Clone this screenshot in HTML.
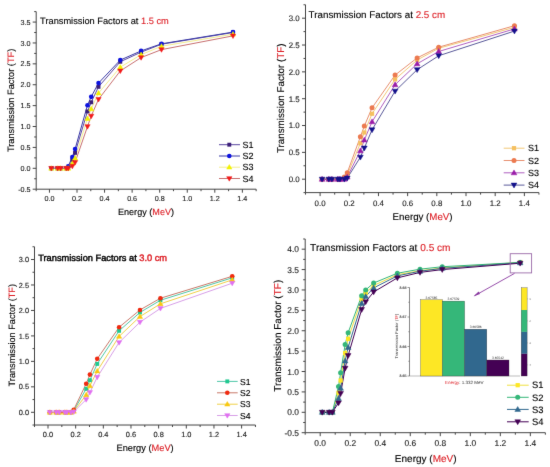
<!DOCTYPE html>
<html><head><meta charset="utf-8"><style>
html,body{margin:0;padding:0;background:#fff;}
svg{display:block;}
text{font-family:"Liberation Sans",sans-serif;text-rendering:geometricPrecision;}
</style></head><body>
<svg width="550" height="467" viewBox="0 0 550 467" font-family="Liberation Sans, sans-serif">
<defs><filter id="bl" x="0" y="0" width="1" height="1" color-interpolation-filters="sRGB"><feConvolveMatrix order="3" kernelMatrix="0.0072 0.0847 0.0072 0.0847 1 0.0847 0.0072 0.0847 0.0072" divisor="1.3673" edgeMode="duplicate"/></filter></defs>
<rect width="550" height="467" fill="#fff"/>
<g filter="url(#bl)">
<rect width="550" height="467" fill="#fff"/>
<g id="p1"><path d="M36.20 11.62V189.19H256.15" fill="none" stroke="#444" stroke-width="1"/>
<path d="M32.70 189.19H36.20M34.20 178.75H36.20M32.70 168.30H36.20M34.20 157.86H36.20M32.70 147.41H36.20M34.20 136.97H36.20M32.70 126.52H36.20M34.20 116.08H36.20M32.70 105.63H36.20M34.20 95.19H36.20M32.70 84.74H36.20M34.20 74.30H36.20M32.70 63.85H36.20M34.20 53.41H36.20M32.70 42.96H36.20M34.20 32.52H36.20M32.70 22.07H36.20M34.20 11.62H36.20M36.20 189.19V191.19M49.45 189.19V192.69M63.23 189.19V191.19M77.01 189.19V192.69M90.79 189.19V191.19M104.57 189.19V192.69M118.35 189.19V191.19M132.13 189.19V192.69M145.91 189.19V191.19M159.69 189.19V192.69M173.47 189.19V191.19M187.25 189.19V192.69M201.03 189.19V191.19M214.81 189.19V192.69M228.59 189.19V191.19M242.37 189.19V192.69M256.15 189.19V191.19" stroke="#444" stroke-width="1" fill="none"/>
<text x="30.60" y="191.77" text-anchor="end" font-size="7.2" fill="#1a1a1a" stroke="#1a1a1a" stroke-width="0.12">-0.5</text>
<text x="30.60" y="170.88" text-anchor="end" font-size="7.2" fill="#1a1a1a" stroke="#1a1a1a" stroke-width="0.12">0.0</text>
<text x="30.60" y="149.99" text-anchor="end" font-size="7.2" fill="#1a1a1a" stroke="#1a1a1a" stroke-width="0.12">0.5</text>
<text x="30.60" y="129.10" text-anchor="end" font-size="7.2" fill="#1a1a1a" stroke="#1a1a1a" stroke-width="0.12">1.0</text>
<text x="30.60" y="108.21" text-anchor="end" font-size="7.2" fill="#1a1a1a" stroke="#1a1a1a" stroke-width="0.12">1.5</text>
<text x="30.60" y="87.32" text-anchor="end" font-size="7.2" fill="#1a1a1a" stroke="#1a1a1a" stroke-width="0.12">2.0</text>
<text x="30.60" y="66.43" text-anchor="end" font-size="7.2" fill="#1a1a1a" stroke="#1a1a1a" stroke-width="0.12">2.5</text>
<text x="30.60" y="45.54" text-anchor="end" font-size="7.2" fill="#1a1a1a" stroke="#1a1a1a" stroke-width="0.12">3.0</text>
<text x="30.60" y="24.65" text-anchor="end" font-size="7.2" fill="#1a1a1a" stroke="#1a1a1a" stroke-width="0.12">3.5</text>
<text x="49.45" y="200.89" text-anchor="middle" font-size="7.2" fill="#1a1a1a" stroke="#1a1a1a" stroke-width="0.12">0.0</text>
<text x="77.01" y="200.89" text-anchor="middle" font-size="7.2" fill="#1a1a1a" stroke="#1a1a1a" stroke-width="0.12">0.2</text>
<text x="104.57" y="200.89" text-anchor="middle" font-size="7.2" fill="#1a1a1a" stroke="#1a1a1a" stroke-width="0.12">0.4</text>
<text x="132.13" y="200.89" text-anchor="middle" font-size="7.2" fill="#1a1a1a" stroke="#1a1a1a" stroke-width="0.12">0.6</text>
<text x="159.69" y="200.89" text-anchor="middle" font-size="7.2" fill="#1a1a1a" stroke="#1a1a1a" stroke-width="0.12">0.8</text>
<text x="187.25" y="200.89" text-anchor="middle" font-size="7.2" fill="#1a1a1a" stroke="#1a1a1a" stroke-width="0.12">1.0</text>
<text x="214.81" y="200.89" text-anchor="middle" font-size="7.2" fill="#1a1a1a" stroke="#1a1a1a" stroke-width="0.12">1.2</text>
<text x="242.37" y="200.89" text-anchor="middle" font-size="7.2" fill="#1a1a1a" stroke="#1a1a1a" stroke-width="0.12">1.4</text>
<text x="40.1" y="24.3" font-size="9.25" fill="#000" stroke="#000" stroke-width="0.12">Transmission Factors at <tspan fill="#dd1f26" stroke="#dd1f26">1.5 cm</tspan></text>
<text transform="translate(14.0 100.4) rotate(-90)" text-anchor="middle" font-size="9.24" fill="#000" stroke="#000" stroke-width="0.12">Transmission Factor (<tspan fill="#dd1f26" stroke="#dd1f26">TF</tspan>)</text>
<text x="146" y="215.3" text-anchor="middle" font-size="9.1" fill="#000" stroke="#000" stroke-width="0.12">Energy (<tspan fill="#dd1f26" stroke="#dd1f26">MeV</tspan>)</text>
<polyline points="51.32,168.30 57.65,168.30 60.61,168.30 66.26,168.30 68.19,167.46 72.32,159.94 75.08,152.84 87.48,111.48 91.20,102.29 98.51,86.83 120.28,61.76 141.09,52.15 161.48,44.21 233.00,32.52" fill="none" stroke="#5a48a0" stroke-width="1"/>
<polyline points="51.32,168.30 57.65,168.30 60.61,168.30 66.26,168.30 68.19,166.21 72.32,157.02 75.08,149.08 87.48,105.21 91.20,96.86 98.51,83.07 120.28,60.09 141.09,50.90 161.48,43.80 233.00,32.10" fill="none" stroke="#3a3aa8" stroke-width="1"/>
<polyline points="51.32,168.30 57.65,168.30 60.61,168.30 66.26,168.30 68.19,168.30 72.32,163.29 75.08,158.27 87.48,118.58 91.20,108.97 98.51,93.10 120.28,67.19 141.09,54.66 161.48,46.30 233.00,34.19" fill="none" stroke="#f4ee90" stroke-width="1"/>
<polyline points="51.32,168.30 57.65,168.30 60.61,168.30 66.26,168.30 68.19,168.30 72.32,166.21 75.08,162.45 87.48,126.52 91.20,116.08 98.51,99.36 120.28,70.95 141.09,57.58 161.48,49.64 233.00,35.86" fill="none" stroke="#c87070" stroke-width="1"/>
<rect x="49.37" y="166.34" width="3.91" height="3.91" fill="#3b1e78"/>
<rect x="55.69" y="166.34" width="3.91" height="3.91" fill="#3b1e78"/>
<rect x="58.66" y="166.34" width="3.91" height="3.91" fill="#3b1e78"/>
<rect x="64.31" y="166.34" width="3.91" height="3.91" fill="#3b1e78"/>
<rect x="66.24" y="165.51" width="3.91" height="3.91" fill="#3b1e78"/>
<rect x="70.37" y="157.99" width="3.91" height="3.91" fill="#3b1e78"/>
<rect x="73.13" y="150.89" width="3.91" height="3.91" fill="#3b1e78"/>
<rect x="85.53" y="109.52" width="3.91" height="3.91" fill="#3b1e78"/>
<rect x="89.25" y="100.33" width="3.91" height="3.91" fill="#3b1e78"/>
<rect x="96.55" y="84.87" width="3.91" height="3.91" fill="#3b1e78"/>
<rect x="118.32" y="59.81" width="3.91" height="3.91" fill="#3b1e78"/>
<rect x="139.13" y="50.20" width="3.91" height="3.91" fill="#3b1e78"/>
<rect x="159.53" y="42.26" width="3.91" height="3.91" fill="#3b1e78"/>
<rect x="231.04" y="30.56" width="3.91" height="3.91" fill="#3b1e78"/>
<circle cx="51.32" cy="168.30" r="2.30" fill="#0c12e0"/>
<circle cx="57.65" cy="168.30" r="2.30" fill="#0c12e0"/>
<circle cx="60.61" cy="168.30" r="2.30" fill="#0c12e0"/>
<circle cx="66.26" cy="168.30" r="2.30" fill="#0c12e0"/>
<circle cx="68.19" cy="166.21" r="2.30" fill="#0c12e0"/>
<circle cx="72.32" cy="157.02" r="2.30" fill="#0c12e0"/>
<circle cx="75.08" cy="149.08" r="2.30" fill="#0c12e0"/>
<circle cx="87.48" cy="105.21" r="2.30" fill="#0c12e0"/>
<circle cx="91.20" cy="96.86" r="2.30" fill="#0c12e0"/>
<circle cx="98.51" cy="83.07" r="2.30" fill="#0c12e0"/>
<circle cx="120.28" cy="60.09" r="2.30" fill="#0c12e0"/>
<circle cx="141.09" cy="50.90" r="2.30" fill="#0c12e0"/>
<circle cx="161.48" cy="43.80" r="2.30" fill="#0c12e0"/>
<circle cx="233.00" cy="32.10" r="2.30" fill="#0c12e0"/>
<path d="M51.32 165.66L53.97 170.15L48.68 170.15Z" fill="#f2f200" stroke="#f2f200" stroke-width="0.5" stroke-linejoin="round"/>
<path d="M57.65 165.66L60.29 170.15L55.00 170.15Z" fill="#f2f200" stroke="#f2f200" stroke-width="0.5" stroke-linejoin="round"/>
<path d="M60.61 165.66L63.26 170.15L57.97 170.15Z" fill="#f2f200" stroke="#f2f200" stroke-width="0.5" stroke-linejoin="round"/>
<path d="M66.26 165.66L68.91 170.15L63.62 170.15Z" fill="#f2f200" stroke="#f2f200" stroke-width="0.5" stroke-linejoin="round"/>
<path d="M68.19 165.66L70.84 170.15L65.55 170.15Z" fill="#f2f200" stroke="#f2f200" stroke-width="0.5" stroke-linejoin="round"/>
<path d="M72.32 160.64L74.97 165.14L69.68 165.14Z" fill="#f2f200" stroke="#f2f200" stroke-width="0.5" stroke-linejoin="round"/>
<path d="M75.08 155.63L77.73 160.12L72.44 160.12Z" fill="#f2f200" stroke="#f2f200" stroke-width="0.5" stroke-linejoin="round"/>
<path d="M87.48 115.94L90.13 120.43L84.84 120.43Z" fill="#f2f200" stroke="#f2f200" stroke-width="0.5" stroke-linejoin="round"/>
<path d="M91.20 106.33L93.85 110.82L88.56 110.82Z" fill="#f2f200" stroke="#f2f200" stroke-width="0.5" stroke-linejoin="round"/>
<path d="M98.51 90.45L101.15 94.95L95.86 94.95Z" fill="#f2f200" stroke="#f2f200" stroke-width="0.5" stroke-linejoin="round"/>
<path d="M120.28 64.55L122.92 69.04L117.63 69.04Z" fill="#f2f200" stroke="#f2f200" stroke-width="0.5" stroke-linejoin="round"/>
<path d="M141.09 52.01L143.73 56.51L138.44 56.51Z" fill="#f2f200" stroke="#f2f200" stroke-width="0.5" stroke-linejoin="round"/>
<path d="M161.48 43.66L164.13 48.15L158.84 48.15Z" fill="#f2f200" stroke="#f2f200" stroke-width="0.5" stroke-linejoin="round"/>
<path d="M233.00 31.54L235.64 36.04L230.35 36.04Z" fill="#f2f200" stroke="#f2f200" stroke-width="0.5" stroke-linejoin="round"/>
<path d="M51.32 170.95L53.97 166.45L48.68 166.45Z" fill="#f21a1a" stroke="#f21a1a" stroke-width="0.5" stroke-linejoin="round"/>
<path d="M57.65 170.95L60.29 166.45L55.00 166.45Z" fill="#f21a1a" stroke="#f21a1a" stroke-width="0.5" stroke-linejoin="round"/>
<path d="M60.61 170.95L63.26 166.45L57.97 166.45Z" fill="#f21a1a" stroke="#f21a1a" stroke-width="0.5" stroke-linejoin="round"/>
<path d="M66.26 170.95L68.91 166.45L63.62 166.45Z" fill="#f21a1a" stroke="#f21a1a" stroke-width="0.5" stroke-linejoin="round"/>
<path d="M68.19 170.95L70.84 166.45L65.55 166.45Z" fill="#f21a1a" stroke="#f21a1a" stroke-width="0.5" stroke-linejoin="round"/>
<path d="M72.32 168.86L74.97 164.36L69.68 164.36Z" fill="#f21a1a" stroke="#f21a1a" stroke-width="0.5" stroke-linejoin="round"/>
<path d="M75.08 165.10L77.73 160.60L72.44 160.60Z" fill="#f21a1a" stroke="#f21a1a" stroke-width="0.5" stroke-linejoin="round"/>
<path d="M87.48 129.17L90.13 124.67L84.84 124.67Z" fill="#f21a1a" stroke="#f21a1a" stroke-width="0.5" stroke-linejoin="round"/>
<path d="M91.20 118.72L93.85 114.22L88.56 114.22Z" fill="#f21a1a" stroke="#f21a1a" stroke-width="0.5" stroke-linejoin="round"/>
<path d="M98.51 102.01L101.15 97.51L95.86 97.51Z" fill="#f21a1a" stroke="#f21a1a" stroke-width="0.5" stroke-linejoin="round"/>
<path d="M120.28 73.60L122.92 69.10L117.63 69.10Z" fill="#f21a1a" stroke="#f21a1a" stroke-width="0.5" stroke-linejoin="round"/>
<path d="M141.09 60.23L143.73 55.73L138.44 55.73Z" fill="#f21a1a" stroke="#f21a1a" stroke-width="0.5" stroke-linejoin="round"/>
<path d="M161.48 52.29L164.13 47.79L158.84 47.79Z" fill="#f21a1a" stroke="#f21a1a" stroke-width="0.5" stroke-linejoin="round"/>
<path d="M233.00 38.50L235.64 34.01L230.35 34.01Z" fill="#f21a1a" stroke="#f21a1a" stroke-width="0.5" stroke-linejoin="round"/>
<path d="M219 144.7H240" stroke="#5a48a0" stroke-width="1"/>
<rect x="227.34" y="142.74" width="3.91" height="3.91" fill="#3b1e78"/>
<text x="242.5" y="147.90" font-size="9" fill="#000" stroke="#000" stroke-width="0.12">S1</text>
<path d="M219 156.0H240" stroke="#3a3aa8" stroke-width="1"/>
<circle cx="229.30" cy="156.00" r="2.30" fill="#0c12e0"/>
<text x="242.5" y="159.20" font-size="9" fill="#000" stroke="#000" stroke-width="0.12">S2</text>
<path d="M219 167.2H240" stroke="#f4ee90" stroke-width="1"/>
<path d="M229.30 164.55L231.95 169.05L226.66 169.05Z" fill="#f2f200" stroke="#f2f200" stroke-width="0.5" stroke-linejoin="round"/>
<text x="242.5" y="170.40" font-size="9" fill="#000" stroke="#000" stroke-width="0.12">S3</text>
<path d="M219 178.5H240" stroke="#c87070" stroke-width="1"/>
<path d="M229.30 181.15L231.95 176.65L226.66 176.65Z" fill="#f21a1a" stroke="#f21a1a" stroke-width="0.5" stroke-linejoin="round"/>
<text x="242.5" y="181.70" font-size="9" fill="#000" stroke="#000" stroke-width="0.12">S4</text></g>
<g id="p2"><path d="M305.51 4.77V192.62H538.95" fill="none" stroke="#444" stroke-width="1"/>
<path d="M303.51 192.62H305.51M302.01 179.20H305.51M303.51 165.78H305.51M302.01 152.36H305.51M303.51 138.95H305.51M302.01 125.53H305.51M303.51 112.11H305.51M302.01 98.69H305.51M303.51 85.28H305.51M302.01 71.86H305.51M303.51 58.44H305.51M302.01 45.02H305.51M303.51 31.61H305.51M302.01 18.19H305.51M303.51 4.77H305.51M305.51 192.62V194.62M320.10 192.62V196.12M334.69 192.62V194.62M349.28 192.62V196.12M363.87 192.62V194.62M378.46 192.62V196.12M393.05 192.62V194.62M407.64 192.62V196.12M422.23 192.62V194.62M436.82 192.62V196.12M451.41 192.62V194.62M466.00 192.62V196.12M480.59 192.62V194.62M495.18 192.62V196.12M509.77 192.62V194.62M524.36 192.62V196.12M538.95 192.62V194.62" stroke="#444" stroke-width="1" fill="none"/>
<text x="299.71" y="182.03" text-anchor="end" font-size="7.9" fill="#1a1a1a" stroke="#1a1a1a" stroke-width="0.12">0.0</text>
<text x="299.71" y="155.19" text-anchor="end" font-size="7.9" fill="#1a1a1a" stroke="#1a1a1a" stroke-width="0.12">0.5</text>
<text x="299.71" y="128.36" text-anchor="end" font-size="7.9" fill="#1a1a1a" stroke="#1a1a1a" stroke-width="0.12">1.0</text>
<text x="299.71" y="101.52" text-anchor="end" font-size="7.9" fill="#1a1a1a" stroke="#1a1a1a" stroke-width="0.12">1.5</text>
<text x="299.71" y="74.69" text-anchor="end" font-size="7.9" fill="#1a1a1a" stroke="#1a1a1a" stroke-width="0.12">2.0</text>
<text x="299.71" y="47.85" text-anchor="end" font-size="7.9" fill="#1a1a1a" stroke="#1a1a1a" stroke-width="0.12">2.5</text>
<text x="299.71" y="21.02" text-anchor="end" font-size="7.9" fill="#1a1a1a" stroke="#1a1a1a" stroke-width="0.12">3.0</text>
<text x="320.10" y="205.52" text-anchor="middle" font-size="7.9" fill="#1a1a1a" stroke="#1a1a1a" stroke-width="0.12">0.0</text>
<text x="349.28" y="205.52" text-anchor="middle" font-size="7.9" fill="#1a1a1a" stroke="#1a1a1a" stroke-width="0.12">0.2</text>
<text x="378.46" y="205.52" text-anchor="middle" font-size="7.9" fill="#1a1a1a" stroke="#1a1a1a" stroke-width="0.12">0.4</text>
<text x="407.64" y="205.52" text-anchor="middle" font-size="7.9" fill="#1a1a1a" stroke="#1a1a1a" stroke-width="0.12">0.6</text>
<text x="436.82" y="205.52" text-anchor="middle" font-size="7.9" fill="#1a1a1a" stroke="#1a1a1a" stroke-width="0.12">0.8</text>
<text x="466.00" y="205.52" text-anchor="middle" font-size="7.9" fill="#1a1a1a" stroke="#1a1a1a" stroke-width="0.12">1.0</text>
<text x="495.18" y="205.52" text-anchor="middle" font-size="7.9" fill="#1a1a1a" stroke="#1a1a1a" stroke-width="0.12">1.2</text>
<text x="524.36" y="205.52" text-anchor="middle" font-size="7.9" fill="#1a1a1a" stroke="#1a1a1a" stroke-width="0.12">1.4</text>
<text x="308.6" y="17.9" font-size="9.82" fill="#000" stroke="#000" stroke-width="0.12">Transmission Factors at <tspan fill="#dd1f26" stroke="#dd1f26">2.5 cm</tspan></text>
<text transform="translate(284.0 98.3) rotate(-90)" text-anchor="middle" font-size="9.8" fill="#000" stroke="#000" stroke-width="0.12">Transmission Factor (<tspan fill="#dd1f26" stroke="#dd1f26">TF</tspan>)</text>
<text x="422.6" y="220.3" text-anchor="middle" font-size="9.73" fill="#000" stroke="#000" stroke-width="0.12">Energy (<tspan fill="#dd1f26" stroke="#dd1f26">MeV</tspan>)</text>
<polyline points="322.08,179.20 328.78,179.20 331.92,179.20 337.90,179.20 339.94,179.20 344.32,178.13 347.24,174.91 360.37,143.24 364.31,132.51 372.04,113.72 395.09,79.37 417.12,60.05 438.72,48.25 514.44,27.31" fill="none" stroke="#f2c878" stroke-width="1"/>
<polyline points="322.08,179.20 328.78,179.20 331.92,179.20 337.90,179.20 339.94,179.20 344.32,177.05 347.24,172.76 360.37,136.80 364.31,126.07 372.04,107.82 395.09,75.08 417.12,57.91 438.72,47.17 514.44,25.70" fill="none" stroke="#e89070" stroke-width="1"/>
<polyline points="322.08,179.20 328.78,179.20 331.92,179.20 337.90,179.20 339.94,179.20 344.32,179.20 347.24,177.05 360.37,150.75 364.31,140.02 372.04,121.77 395.09,84.74 417.12,63.81 438.72,51.47 514.44,28.92" fill="none" stroke="#b060c0" stroke-width="1"/>
<polyline points="322.08,179.20 328.78,179.20 331.92,179.20 337.90,179.20 339.94,179.20 344.32,179.20 347.24,178.13 360.37,157.20 364.31,148.07 372.04,129.82 395.09,91.18 417.12,69.71 438.72,55.76 514.44,31.07" fill="none" stroke="#5a5a9a" stroke-width="1"/>
<rect x="319.96" y="177.07" width="4.25" height="4.25" fill="#f5c060"/>
<rect x="326.66" y="177.07" width="4.25" height="4.25" fill="#f5c060"/>
<rect x="329.79" y="177.07" width="4.25" height="4.25" fill="#f5c060"/>
<rect x="335.77" y="177.07" width="4.25" height="4.25" fill="#f5c060"/>
<rect x="337.82" y="177.07" width="4.25" height="4.25" fill="#f5c060"/>
<rect x="342.19" y="176.00" width="4.25" height="4.25" fill="#f5c060"/>
<rect x="345.11" y="172.78" width="4.25" height="4.25" fill="#f5c060"/>
<rect x="358.24" y="141.12" width="4.25" height="4.25" fill="#f5c060"/>
<rect x="362.18" y="130.38" width="4.25" height="4.25" fill="#f5c060"/>
<rect x="369.92" y="111.60" width="4.25" height="4.25" fill="#f5c060"/>
<rect x="392.97" y="77.25" width="4.25" height="4.25" fill="#f5c060"/>
<rect x="415.00" y="57.93" width="4.25" height="4.25" fill="#f5c060"/>
<rect x="436.59" y="46.12" width="4.25" height="4.25" fill="#f5c060"/>
<rect x="512.31" y="25.19" width="4.25" height="4.25" fill="#f5c060"/>
<circle cx="322.08" cy="179.20" r="2.50" fill="#ec7a50"/>
<circle cx="328.78" cy="179.20" r="2.50" fill="#ec7a50"/>
<circle cx="331.92" cy="179.20" r="2.50" fill="#ec7a50"/>
<circle cx="337.90" cy="179.20" r="2.50" fill="#ec7a50"/>
<circle cx="339.94" cy="179.20" r="2.50" fill="#ec7a50"/>
<circle cx="344.32" cy="177.05" r="2.50" fill="#ec7a50"/>
<circle cx="347.24" cy="172.76" r="2.50" fill="#ec7a50"/>
<circle cx="360.37" cy="136.80" r="2.50" fill="#ec7a50"/>
<circle cx="364.31" cy="126.07" r="2.50" fill="#ec7a50"/>
<circle cx="372.04" cy="107.82" r="2.50" fill="#ec7a50"/>
<circle cx="395.09" cy="75.08" r="2.50" fill="#ec7a50"/>
<circle cx="417.12" cy="57.91" r="2.50" fill="#ec7a50"/>
<circle cx="438.72" cy="47.17" r="2.50" fill="#ec7a50"/>
<circle cx="514.44" cy="25.70" r="2.50" fill="#ec7a50"/>
<path d="M322.08 176.32L324.96 181.21L319.21 181.21Z" fill="#9a1ca8" stroke="#9a1ca8" stroke-width="0.5" stroke-linejoin="round"/>
<path d="M328.78 176.32L331.66 181.21L325.91 181.21Z" fill="#9a1ca8" stroke="#9a1ca8" stroke-width="0.5" stroke-linejoin="round"/>
<path d="M331.92 176.32L334.79 181.21L329.04 181.21Z" fill="#9a1ca8" stroke="#9a1ca8" stroke-width="0.5" stroke-linejoin="round"/>
<path d="M337.90 176.32L340.77 181.21L335.02 181.21Z" fill="#9a1ca8" stroke="#9a1ca8" stroke-width="0.5" stroke-linejoin="round"/>
<path d="M339.94 176.32L342.82 181.21L337.07 181.21Z" fill="#9a1ca8" stroke="#9a1ca8" stroke-width="0.5" stroke-linejoin="round"/>
<path d="M344.32 176.32L347.19 181.21L341.44 181.21Z" fill="#9a1ca8" stroke="#9a1ca8" stroke-width="0.5" stroke-linejoin="round"/>
<path d="M347.24 174.18L350.11 179.07L344.36 179.07Z" fill="#9a1ca8" stroke="#9a1ca8" stroke-width="0.5" stroke-linejoin="round"/>
<path d="M360.37 147.88L363.24 152.77L357.49 152.77Z" fill="#9a1ca8" stroke="#9a1ca8" stroke-width="0.5" stroke-linejoin="round"/>
<path d="M364.31 137.15L367.18 142.03L361.43 142.03Z" fill="#9a1ca8" stroke="#9a1ca8" stroke-width="0.5" stroke-linejoin="round"/>
<path d="M372.04 118.90L374.92 123.79L369.17 123.79Z" fill="#9a1ca8" stroke="#9a1ca8" stroke-width="0.5" stroke-linejoin="round"/>
<path d="M395.09 81.87L397.97 86.75L392.22 86.75Z" fill="#9a1ca8" stroke="#9a1ca8" stroke-width="0.5" stroke-linejoin="round"/>
<path d="M417.12 60.93L420.00 65.82L414.25 65.82Z" fill="#9a1ca8" stroke="#9a1ca8" stroke-width="0.5" stroke-linejoin="round"/>
<path d="M438.72 48.59L441.59 53.48L435.84 53.48Z" fill="#9a1ca8" stroke="#9a1ca8" stroke-width="0.5" stroke-linejoin="round"/>
<path d="M514.44 26.05L517.31 30.94L511.56 30.94Z" fill="#9a1ca8" stroke="#9a1ca8" stroke-width="0.5" stroke-linejoin="round"/>
<path d="M322.08 182.07L324.96 177.19L319.21 177.19Z" fill="#12108a" stroke="#12108a" stroke-width="0.5" stroke-linejoin="round"/>
<path d="M328.78 182.07L331.66 177.19L325.91 177.19Z" fill="#12108a" stroke="#12108a" stroke-width="0.5" stroke-linejoin="round"/>
<path d="M331.92 182.07L334.79 177.19L329.04 177.19Z" fill="#12108a" stroke="#12108a" stroke-width="0.5" stroke-linejoin="round"/>
<path d="M337.90 182.07L340.77 177.19L335.02 177.19Z" fill="#12108a" stroke="#12108a" stroke-width="0.5" stroke-linejoin="round"/>
<path d="M339.94 182.07L342.82 177.19L337.07 177.19Z" fill="#12108a" stroke="#12108a" stroke-width="0.5" stroke-linejoin="round"/>
<path d="M344.32 182.07L347.19 177.19L341.44 177.19Z" fill="#12108a" stroke="#12108a" stroke-width="0.5" stroke-linejoin="round"/>
<path d="M347.24 181.00L350.11 176.11L344.36 176.11Z" fill="#12108a" stroke="#12108a" stroke-width="0.5" stroke-linejoin="round"/>
<path d="M360.37 160.07L363.24 155.18L357.49 155.18Z" fill="#12108a" stroke="#12108a" stroke-width="0.5" stroke-linejoin="round"/>
<path d="M364.31 150.95L367.18 146.06L361.43 146.06Z" fill="#12108a" stroke="#12108a" stroke-width="0.5" stroke-linejoin="round"/>
<path d="M372.04 132.70L374.92 127.81L369.17 127.81Z" fill="#12108a" stroke="#12108a" stroke-width="0.5" stroke-linejoin="round"/>
<path d="M395.09 94.06L397.97 89.17L392.22 89.17Z" fill="#12108a" stroke="#12108a" stroke-width="0.5" stroke-linejoin="round"/>
<path d="M417.12 72.59L420.00 67.70L414.25 67.70Z" fill="#12108a" stroke="#12108a" stroke-width="0.5" stroke-linejoin="round"/>
<path d="M438.72 58.63L441.59 53.75L435.84 53.75Z" fill="#12108a" stroke="#12108a" stroke-width="0.5" stroke-linejoin="round"/>
<path d="M514.44 33.95L517.31 29.06L511.56 29.06Z" fill="#12108a" stroke="#12108a" stroke-width="0.5" stroke-linejoin="round"/>
<path d="M503.7 148.2H524.5" stroke="#f2c878" stroke-width="1"/>
<rect x="511.88" y="146.07" width="4.25" height="4.25" fill="#f5c060"/>
<text x="528" y="151.40" font-size="9" fill="#000" stroke="#000" stroke-width="0.12">S1</text>
<path d="M503.7 160.5H524.5" stroke="#e89070" stroke-width="1"/>
<circle cx="514.00" cy="160.50" r="2.50" fill="#ec7a50"/>
<text x="528" y="163.70" font-size="9" fill="#000" stroke="#000" stroke-width="0.12">S2</text>
<path d="M503.7 172.8H524.5" stroke="#b060c0" stroke-width="1"/>
<path d="M514.00 169.93L516.88 174.81L511.12 174.81Z" fill="#9a1ca8" stroke="#9a1ca8" stroke-width="0.5" stroke-linejoin="round"/>
<text x="528" y="176.00" font-size="9" fill="#000" stroke="#000" stroke-width="0.12">S3</text>
<path d="M503.7 185.1H524.5" stroke="#5a5a9a" stroke-width="1"/>
<path d="M514.00 187.97L516.88 183.09L511.12 183.09Z" fill="#12108a" stroke="#12108a" stroke-width="0.5" stroke-linejoin="round"/>
<text x="528" y="188.30" font-size="9" fill="#000" stroke="#000" stroke-width="0.12">S4</text></g>
<g id="p3"><path d="M34.50 246.78V425.03H255.45" fill="none" stroke="#444" stroke-width="1"/>
<path d="M32.50 425.03H34.50M31.00 412.30H34.50M32.50 399.57H34.50M31.00 386.84H34.50M32.50 374.10H34.50M31.00 361.37H34.50M32.50 348.64H34.50M31.00 335.91H34.50M32.50 323.17H34.50M31.00 310.44H34.50M32.50 297.71H34.50M31.00 284.98H34.50M32.50 272.24H34.50M31.00 259.51H34.50M32.50 246.78H34.50M34.50 425.03V427.03M48.00 425.03V428.53M61.83 425.03V427.03M75.66 425.03V428.53M89.49 425.03V427.03M103.32 425.03V428.53M117.15 425.03V427.03M130.98 425.03V428.53M144.81 425.03V427.03M158.64 425.03V428.53M172.47 425.03V427.03M186.30 425.03V428.53M200.13 425.03V427.03M213.96 425.03V428.53M227.79 425.03V427.03M241.62 425.03V428.53M255.45 425.03V427.03" stroke="#444" stroke-width="1" fill="none"/>
<text x="29.00" y="414.95" text-anchor="end" font-size="7.4" fill="#1a1a1a" stroke="#1a1a1a" stroke-width="0.12">0.0</text>
<text x="29.00" y="389.48" text-anchor="end" font-size="7.4" fill="#1a1a1a" stroke="#1a1a1a" stroke-width="0.12">0.5</text>
<text x="29.00" y="364.02" text-anchor="end" font-size="7.4" fill="#1a1a1a" stroke="#1a1a1a" stroke-width="0.12">1.0</text>
<text x="29.00" y="338.55" text-anchor="end" font-size="7.4" fill="#1a1a1a" stroke="#1a1a1a" stroke-width="0.12">1.5</text>
<text x="29.00" y="313.09" text-anchor="end" font-size="7.4" fill="#1a1a1a" stroke="#1a1a1a" stroke-width="0.12">2.0</text>
<text x="29.00" y="287.62" text-anchor="end" font-size="7.4" fill="#1a1a1a" stroke="#1a1a1a" stroke-width="0.12">2.5</text>
<text x="29.00" y="262.16" text-anchor="end" font-size="7.4" fill="#1a1a1a" stroke="#1a1a1a" stroke-width="0.12">3.0</text>
<text x="48.00" y="437.33" text-anchor="middle" font-size="7.4" fill="#1a1a1a" stroke="#1a1a1a" stroke-width="0.12">0.0</text>
<text x="75.66" y="437.33" text-anchor="middle" font-size="7.4" fill="#1a1a1a" stroke="#1a1a1a" stroke-width="0.12">0.2</text>
<text x="103.32" y="437.33" text-anchor="middle" font-size="7.4" fill="#1a1a1a" stroke="#1a1a1a" stroke-width="0.12">0.4</text>
<text x="130.98" y="437.33" text-anchor="middle" font-size="7.4" fill="#1a1a1a" stroke="#1a1a1a" stroke-width="0.12">0.6</text>
<text x="158.64" y="437.33" text-anchor="middle" font-size="7.4" fill="#1a1a1a" stroke="#1a1a1a" stroke-width="0.12">0.8</text>
<text x="186.30" y="437.33" text-anchor="middle" font-size="7.4" fill="#1a1a1a" stroke="#1a1a1a" stroke-width="0.12">1.0</text>
<text x="213.96" y="437.33" text-anchor="middle" font-size="7.4" fill="#1a1a1a" stroke="#1a1a1a" stroke-width="0.12">1.2</text>
<text x="241.62" y="437.33" text-anchor="middle" font-size="7.4" fill="#1a1a1a" stroke="#1a1a1a" stroke-width="0.12">1.4</text>
<text x="38.2" y="261.0" font-size="9.27" fill="#000" stroke="#000" stroke-width="0.42">Transmission Factors at <tspan fill="#dd1f26" stroke="#dd1f26">3.0 cm</tspan></text>
<text transform="translate(14.5 335.2) rotate(-90)" text-anchor="middle" font-size="9.16" fill="#000" stroke="#000" stroke-width="0.12">Transmission Factor (<tspan fill="#dd1f26" stroke="#dd1f26">TF</tspan>)</text>
<text x="145.1" y="451.3" text-anchor="middle" font-size="9.27" fill="#000" stroke="#000" stroke-width="0.12">Energy (<tspan fill="#dd1f26" stroke="#dd1f26">MeV</tspan>)</text>
<polyline points="49.88,412.30 56.23,412.30 59.20,412.30 64.87,412.30 66.81,412.30 70.96,412.30 73.72,410.77 86.17,388.87 89.90,380.21 97.23,363.92 119.09,330.81 139.97,312.48 160.44,300.25 232.22,277.84" fill="none" stroke="#50c8a8" stroke-width="1"/>
<polyline points="49.88,412.30 56.23,412.30 59.20,412.30 64.87,412.30 66.81,412.30 70.96,412.30 73.72,409.75 86.17,383.78 89.90,374.61 97.23,358.82 119.09,327.25 139.97,309.93 160.44,298.22 232.22,276.32" fill="none" stroke="#c87a6a" stroke-width="1"/>
<polyline points="49.88,412.30 56.23,412.30 59.20,412.30 64.87,412.30 66.81,412.30 70.96,412.30 73.72,411.28 86.17,394.98 89.90,385.82 97.23,371.05 119.09,336.41 139.97,316.55 160.44,303.82 232.22,279.88" fill="none" stroke="#f0d048" stroke-width="1"/>
<polyline points="49.88,412.30 56.23,412.30 59.20,412.30 64.87,412.30 66.81,412.30 70.96,412.30 73.72,411.79 86.17,399.57 89.90,392.44 97.23,377.16 119.09,342.53 139.97,322.15 160.44,308.40 232.22,283.19" fill="none" stroke="#d8a0e8" stroke-width="1"/>
<rect x="47.93" y="410.35" width="3.91" height="3.91" fill="#20c890"/>
<rect x="54.27" y="410.35" width="3.91" height="3.91" fill="#20c890"/>
<rect x="57.25" y="410.35" width="3.91" height="3.91" fill="#20c890"/>
<rect x="62.92" y="410.35" width="3.91" height="3.91" fill="#20c890"/>
<rect x="64.85" y="410.35" width="3.91" height="3.91" fill="#20c890"/>
<rect x="69.00" y="410.35" width="3.91" height="3.91" fill="#20c890"/>
<rect x="71.77" y="408.82" width="3.91" height="3.91" fill="#20c890"/>
<rect x="84.22" y="386.92" width="3.91" height="3.91" fill="#20c890"/>
<rect x="87.95" y="378.26" width="3.91" height="3.91" fill="#20c890"/>
<rect x="95.28" y="361.96" width="3.91" height="3.91" fill="#20c890"/>
<rect x="117.13" y="328.86" width="3.91" height="3.91" fill="#20c890"/>
<rect x="138.01" y="310.52" width="3.91" height="3.91" fill="#20c890"/>
<rect x="158.48" y="298.30" width="3.91" height="3.91" fill="#20c890"/>
<rect x="230.26" y="275.89" width="3.91" height="3.91" fill="#20c890"/>
<circle cx="49.88" cy="412.30" r="2.30" fill="#f02a10"/>
<circle cx="56.23" cy="412.30" r="2.30" fill="#f02a10"/>
<circle cx="59.20" cy="412.30" r="2.30" fill="#f02a10"/>
<circle cx="64.87" cy="412.30" r="2.30" fill="#f02a10"/>
<circle cx="66.81" cy="412.30" r="2.30" fill="#f02a10"/>
<circle cx="70.96" cy="412.30" r="2.30" fill="#f02a10"/>
<circle cx="73.72" cy="409.75" r="2.30" fill="#f02a10"/>
<circle cx="86.17" cy="383.78" r="2.30" fill="#f02a10"/>
<circle cx="89.90" cy="374.61" r="2.30" fill="#f02a10"/>
<circle cx="97.23" cy="358.82" r="2.30" fill="#f02a10"/>
<circle cx="119.09" cy="327.25" r="2.30" fill="#f02a10"/>
<circle cx="139.97" cy="309.93" r="2.30" fill="#f02a10"/>
<circle cx="160.44" cy="298.22" r="2.30" fill="#f02a10"/>
<circle cx="232.22" cy="276.32" r="2.30" fill="#f02a10"/>
<path d="M49.88 409.66L52.53 414.15L47.24 414.15Z" fill="#f8c810" stroke="#f8c810" stroke-width="0.5" stroke-linejoin="round"/>
<path d="M56.23 409.66L58.87 414.15L53.58 414.15Z" fill="#f8c810" stroke="#f8c810" stroke-width="0.5" stroke-linejoin="round"/>
<path d="M59.20 409.66L61.85 414.15L56.56 414.15Z" fill="#f8c810" stroke="#f8c810" stroke-width="0.5" stroke-linejoin="round"/>
<path d="M64.87 409.66L67.52 414.15L62.23 414.15Z" fill="#f8c810" stroke="#f8c810" stroke-width="0.5" stroke-linejoin="round"/>
<path d="M66.81 409.66L69.45 414.15L64.16 414.15Z" fill="#f8c810" stroke="#f8c810" stroke-width="0.5" stroke-linejoin="round"/>
<path d="M70.96 409.66L73.60 414.15L68.31 414.15Z" fill="#f8c810" stroke="#f8c810" stroke-width="0.5" stroke-linejoin="round"/>
<path d="M73.72 408.64L76.37 413.13L71.08 413.13Z" fill="#f8c810" stroke="#f8c810" stroke-width="0.5" stroke-linejoin="round"/>
<path d="M86.17 392.34L88.82 396.84L83.53 396.84Z" fill="#f8c810" stroke="#f8c810" stroke-width="0.5" stroke-linejoin="round"/>
<path d="M89.90 383.17L92.55 387.67L87.26 387.67Z" fill="#f8c810" stroke="#f8c810" stroke-width="0.5" stroke-linejoin="round"/>
<path d="M97.23 368.40L99.88 372.90L94.59 372.90Z" fill="#f8c810" stroke="#f8c810" stroke-width="0.5" stroke-linejoin="round"/>
<path d="M119.09 333.77L121.73 338.27L116.44 338.27Z" fill="#f8c810" stroke="#f8c810" stroke-width="0.5" stroke-linejoin="round"/>
<path d="M139.97 313.91L142.61 318.40L137.32 318.40Z" fill="#f8c810" stroke="#f8c810" stroke-width="0.5" stroke-linejoin="round"/>
<path d="M160.44 301.17L163.08 305.67L157.79 305.67Z" fill="#f8c810" stroke="#f8c810" stroke-width="0.5" stroke-linejoin="round"/>
<path d="M232.22 277.24L234.86 281.73L229.57 281.73Z" fill="#f8c810" stroke="#f8c810" stroke-width="0.5" stroke-linejoin="round"/>
<path d="M49.88 414.94L52.53 410.45L47.24 410.45Z" fill="#e070f0" stroke="#e070f0" stroke-width="0.5" stroke-linejoin="round"/>
<path d="M56.23 414.94L58.87 410.45L53.58 410.45Z" fill="#e070f0" stroke="#e070f0" stroke-width="0.5" stroke-linejoin="round"/>
<path d="M59.20 414.94L61.85 410.45L56.56 410.45Z" fill="#e070f0" stroke="#e070f0" stroke-width="0.5" stroke-linejoin="round"/>
<path d="M64.87 414.94L67.52 410.45L62.23 410.45Z" fill="#e070f0" stroke="#e070f0" stroke-width="0.5" stroke-linejoin="round"/>
<path d="M66.81 414.94L69.45 410.45L64.16 410.45Z" fill="#e070f0" stroke="#e070f0" stroke-width="0.5" stroke-linejoin="round"/>
<path d="M70.96 414.94L73.60 410.45L68.31 410.45Z" fill="#e070f0" stroke="#e070f0" stroke-width="0.5" stroke-linejoin="round"/>
<path d="M73.72 414.44L76.37 409.94L71.08 409.94Z" fill="#e070f0" stroke="#e070f0" stroke-width="0.5" stroke-linejoin="round"/>
<path d="M86.17 402.21L88.82 397.72L83.53 397.72Z" fill="#e070f0" stroke="#e070f0" stroke-width="0.5" stroke-linejoin="round"/>
<path d="M89.90 395.08L92.55 390.59L87.26 390.59Z" fill="#e070f0" stroke="#e070f0" stroke-width="0.5" stroke-linejoin="round"/>
<path d="M97.23 379.80L99.88 375.31L94.59 375.31Z" fill="#e070f0" stroke="#e070f0" stroke-width="0.5" stroke-linejoin="round"/>
<path d="M119.09 345.17L121.73 340.67L116.44 340.67Z" fill="#e070f0" stroke="#e070f0" stroke-width="0.5" stroke-linejoin="round"/>
<path d="M139.97 324.80L142.61 320.30L137.32 320.30Z" fill="#e070f0" stroke="#e070f0" stroke-width="0.5" stroke-linejoin="round"/>
<path d="M160.44 311.05L163.08 306.55L157.79 306.55Z" fill="#e070f0" stroke="#e070f0" stroke-width="0.5" stroke-linejoin="round"/>
<path d="M232.22 285.84L234.86 281.34L229.57 281.34Z" fill="#e070f0" stroke="#e070f0" stroke-width="0.5" stroke-linejoin="round"/>
<path d="M217 381.4H237.7" stroke="#50c8a8" stroke-width="1"/>
<rect x="225.34" y="379.44" width="3.91" height="3.91" fill="#20c890"/>
<text x="240" y="384.60" font-size="8.6" fill="#000" stroke="#000" stroke-width="0.12">S1</text>
<path d="M217 392.8H237.7" stroke="#c87a6a" stroke-width="1"/>
<circle cx="227.30" cy="392.80" r="2.30" fill="#f02a10"/>
<text x="240" y="396.00" font-size="8.6" fill="#000" stroke="#000" stroke-width="0.12">S2</text>
<path d="M217 404.2H237.7" stroke="#f0d048" stroke-width="1"/>
<path d="M227.30 401.56L229.95 406.05L224.66 406.05Z" fill="#f8c810" stroke="#f8c810" stroke-width="0.5" stroke-linejoin="round"/>
<text x="240" y="407.40" font-size="8.6" fill="#000" stroke="#000" stroke-width="0.12">S3</text>
<path d="M217 415.5H237.7" stroke="#d8a0e8" stroke-width="1"/>
<path d="M227.30 418.14L229.95 413.65L224.66 413.65Z" fill="#e070f0" stroke="#e070f0" stroke-width="0.5" stroke-linejoin="round"/>
<text x="240" y="418.70" font-size="8.6" fill="#000" stroke="#000" stroke-width="0.12">S4</text></g>
<g id="p4"><path d="M305.19 238.99V432.69H545.35" fill="none" stroke="#444" stroke-width="1"/>
<path d="M301.69 432.69H305.19M303.19 422.50H305.19M301.69 412.30H305.19M303.19 402.11H305.19M301.69 391.91H305.19M303.19 381.72H305.19M301.69 371.52H305.19M303.19 361.32H305.19M301.69 351.13H305.19M303.19 340.94H305.19M301.69 330.74H305.19M303.19 320.55H305.19M301.69 310.35H305.19M303.19 300.15H305.19M301.69 289.96H305.19M303.19 279.76H305.19M301.69 269.57H305.19M303.19 259.38H305.19M301.69 249.18H305.19M303.19 238.99H305.19M305.19 432.69V434.69M320.20 432.69V436.19M335.21 432.69V434.69M350.22 432.69V436.19M365.23 432.69V434.69M380.24 432.69V436.19M395.25 432.69V434.69M410.26 432.69V436.19M425.27 432.69V434.69M440.28 432.69V436.19M455.29 432.69V434.69M470.30 432.69V436.19M485.31 432.69V434.69M500.32 432.69V436.19M515.33 432.69V434.69M530.34 432.69V436.19M545.35 432.69V434.69" stroke="#444" stroke-width="1" fill="none"/>
<text x="298.89" y="435.70" text-anchor="end" font-size="8.4" fill="#1a1a1a" stroke="#1a1a1a" stroke-width="0.12">-0.5</text>
<text x="298.89" y="415.31" text-anchor="end" font-size="8.4" fill="#1a1a1a" stroke="#1a1a1a" stroke-width="0.12">0.0</text>
<text x="298.89" y="394.92" text-anchor="end" font-size="8.4" fill="#1a1a1a" stroke="#1a1a1a" stroke-width="0.12">0.5</text>
<text x="298.89" y="374.53" text-anchor="end" font-size="8.4" fill="#1a1a1a" stroke="#1a1a1a" stroke-width="0.12">1.0</text>
<text x="298.89" y="354.14" text-anchor="end" font-size="8.4" fill="#1a1a1a" stroke="#1a1a1a" stroke-width="0.12">1.5</text>
<text x="298.89" y="333.75" text-anchor="end" font-size="8.4" fill="#1a1a1a" stroke="#1a1a1a" stroke-width="0.12">2.0</text>
<text x="298.89" y="313.36" text-anchor="end" font-size="8.4" fill="#1a1a1a" stroke="#1a1a1a" stroke-width="0.12">2.5</text>
<text x="298.89" y="292.97" text-anchor="end" font-size="8.4" fill="#1a1a1a" stroke="#1a1a1a" stroke-width="0.12">3.0</text>
<text x="298.89" y="272.58" text-anchor="end" font-size="8.4" fill="#1a1a1a" stroke="#1a1a1a" stroke-width="0.12">3.5</text>
<text x="298.89" y="252.19" text-anchor="end" font-size="8.4" fill="#1a1a1a" stroke="#1a1a1a" stroke-width="0.12">4.0</text>
<text x="320.20" y="445.79" text-anchor="middle" font-size="8.4" fill="#1a1a1a" stroke="#1a1a1a" stroke-width="0.12">0.0</text>
<text x="350.22" y="445.79" text-anchor="middle" font-size="8.4" fill="#1a1a1a" stroke="#1a1a1a" stroke-width="0.12">0.2</text>
<text x="380.24" y="445.79" text-anchor="middle" font-size="8.4" fill="#1a1a1a" stroke="#1a1a1a" stroke-width="0.12">0.4</text>
<text x="410.26" y="445.79" text-anchor="middle" font-size="8.4" fill="#1a1a1a" stroke="#1a1a1a" stroke-width="0.12">0.6</text>
<text x="440.28" y="445.79" text-anchor="middle" font-size="8.4" fill="#1a1a1a" stroke="#1a1a1a" stroke-width="0.12">0.8</text>
<text x="470.30" y="445.79" text-anchor="middle" font-size="8.4" fill="#1a1a1a" stroke="#1a1a1a" stroke-width="0.12">1.0</text>
<text x="500.32" y="445.79" text-anchor="middle" font-size="8.4" fill="#1a1a1a" stroke="#1a1a1a" stroke-width="0.12">1.2</text>
<text x="530.34" y="445.79" text-anchor="middle" font-size="8.4" fill="#1a1a1a" stroke="#1a1a1a" stroke-width="0.12">1.4</text>
<text x="310.1" y="251.1" font-size="10.1" fill="#000" stroke="#000" stroke-width="0.12">Transmission Factors at <tspan fill="#dd1f26" stroke="#dd1f26">0.5 cm</tspan></text>
<text transform="translate(280.6 335.7) rotate(-90)" text-anchor="middle" font-size="10.0" fill="#000" stroke="#000" stroke-width="0.12">Transmission Factor (<tspan fill="#dd1f26" stroke="#dd1f26">TF</tspan>)</text>
<text x="425.7" y="461.5" text-anchor="middle" font-size="10.0" fill="#000" stroke="#000" stroke-width="0.12">Energy (<tspan fill="#dd1f26" stroke="#dd1f26">MeV</tspan>)</text>
<polyline points="322.24,412.30 329.13,412.30 332.36,412.30 338.51,392.73 340.61,380.49 345.12,353.17 348.12,338.90 361.63,298.93 365.68,292.81 373.64,285.47 397.35,274.67 420.02,270.79 442.23,267.94 520.13,262.40" fill="none" stroke="#f0e040" stroke-width="1"/>
<polyline points="322.24,412.30 329.13,412.30 332.36,412.30 338.51,386.61 340.61,372.74 345.12,344.61 348.12,332.78 361.63,295.67 365.68,289.96 373.64,283.03 397.35,273.24 420.02,269.16 442.23,266.72 520.13,262.42" fill="none" stroke="#35b779" stroke-width="1"/>
<polyline points="322.24,412.30 329.13,412.30 332.36,412.30 338.51,398.43 340.61,388.24 345.12,360.92 348.12,347.46 361.63,303.42 365.68,296.48 373.64,287.92 397.35,275.89 420.02,271.20 442.23,268.35 520.13,262.81" fill="none" stroke="#31688e" stroke-width="1"/>
<polyline points="322.24,412.30 329.13,412.30 332.36,412.30 338.51,402.92 340.61,393.54 345.12,368.26 348.12,355.62 361.63,309.53 365.68,301.79 373.64,292.00 397.35,277.89 420.02,272.42 442.23,269.57 520.13,263.23" fill="none" stroke="#440154" stroke-width="1"/>
<rect x="320.12" y="410.18" width="4.25" height="4.25" fill="#fde725"/>
<rect x="327.01" y="410.18" width="4.25" height="4.25" fill="#fde725"/>
<rect x="330.23" y="410.18" width="4.25" height="4.25" fill="#fde725"/>
<rect x="336.39" y="390.60" width="4.25" height="4.25" fill="#fde725"/>
<rect x="338.49" y="378.37" width="4.25" height="4.25" fill="#fde725"/>
<rect x="342.99" y="351.04" width="4.25" height="4.25" fill="#fde725"/>
<rect x="345.99" y="336.77" width="4.25" height="4.25" fill="#fde725"/>
<rect x="359.50" y="296.81" width="4.25" height="4.25" fill="#fde725"/>
<rect x="363.56" y="290.69" width="4.25" height="4.25" fill="#fde725"/>
<rect x="371.51" y="283.35" width="4.25" height="4.25" fill="#fde725"/>
<rect x="395.23" y="272.54" width="4.25" height="4.25" fill="#fde725"/>
<rect x="417.89" y="268.67" width="4.25" height="4.25" fill="#fde725"/>
<rect x="440.11" y="265.81" width="4.25" height="4.25" fill="#fde725"/>
<rect x="518.01" y="260.27" width="4.25" height="4.25" fill="#fde725"/>
<circle cx="322.24" cy="412.30" r="2.50" fill="#35b779"/>
<circle cx="329.13" cy="412.30" r="2.50" fill="#35b779"/>
<circle cx="332.36" cy="412.30" r="2.50" fill="#35b779"/>
<circle cx="338.51" cy="386.61" r="2.50" fill="#35b779"/>
<circle cx="340.61" cy="372.74" r="2.50" fill="#35b779"/>
<circle cx="345.12" cy="344.61" r="2.50" fill="#35b779"/>
<circle cx="348.12" cy="332.78" r="2.50" fill="#35b779"/>
<circle cx="361.63" cy="295.67" r="2.50" fill="#35b779"/>
<circle cx="365.68" cy="289.96" r="2.50" fill="#35b779"/>
<circle cx="373.64" cy="283.03" r="2.50" fill="#35b779"/>
<circle cx="397.35" cy="273.24" r="2.50" fill="#35b779"/>
<circle cx="420.02" cy="269.16" r="2.50" fill="#35b779"/>
<circle cx="442.23" cy="266.72" r="2.50" fill="#35b779"/>
<circle cx="520.13" cy="262.42" r="2.50" fill="#35b779"/>
<path d="M322.24 409.43L325.12 414.31L319.37 414.31Z" fill="#31688e" stroke="#31688e" stroke-width="0.5" stroke-linejoin="round"/>
<path d="M329.13 409.43L332.01 414.31L326.26 414.31Z" fill="#31688e" stroke="#31688e" stroke-width="0.5" stroke-linejoin="round"/>
<path d="M332.36 409.43L335.23 414.31L329.48 414.31Z" fill="#31688e" stroke="#31688e" stroke-width="0.5" stroke-linejoin="round"/>
<path d="M338.51 395.56L341.39 400.45L335.64 400.45Z" fill="#31688e" stroke="#31688e" stroke-width="0.5" stroke-linejoin="round"/>
<path d="M340.61 385.36L343.49 390.25L337.74 390.25Z" fill="#31688e" stroke="#31688e" stroke-width="0.5" stroke-linejoin="round"/>
<path d="M345.12 358.04L347.99 362.93L342.24 362.93Z" fill="#31688e" stroke="#31688e" stroke-width="0.5" stroke-linejoin="round"/>
<path d="M348.12 344.58L350.99 349.47L345.24 349.47Z" fill="#31688e" stroke="#31688e" stroke-width="0.5" stroke-linejoin="round"/>
<path d="M361.63 300.54L364.50 305.43L358.75 305.43Z" fill="#31688e" stroke="#31688e" stroke-width="0.5" stroke-linejoin="round"/>
<path d="M365.68 293.61L368.56 298.50L362.81 298.50Z" fill="#31688e" stroke="#31688e" stroke-width="0.5" stroke-linejoin="round"/>
<path d="M373.64 285.05L376.51 289.93L370.76 289.93Z" fill="#31688e" stroke="#31688e" stroke-width="0.5" stroke-linejoin="round"/>
<path d="M397.35 273.02L400.23 277.90L394.48 277.90Z" fill="#31688e" stroke="#31688e" stroke-width="0.5" stroke-linejoin="round"/>
<path d="M420.02 268.33L422.89 273.21L417.14 273.21Z" fill="#31688e" stroke="#31688e" stroke-width="0.5" stroke-linejoin="round"/>
<path d="M442.23 265.47L445.11 270.36L439.36 270.36Z" fill="#31688e" stroke="#31688e" stroke-width="0.5" stroke-linejoin="round"/>
<path d="M520.13 259.93L523.01 264.82L517.26 264.82Z" fill="#31688e" stroke="#31688e" stroke-width="0.5" stroke-linejoin="round"/>
<path d="M322.24 415.18L325.12 410.29L319.37 410.29Z" fill="#440154" stroke="#440154" stroke-width="0.5" stroke-linejoin="round"/>
<path d="M329.13 415.18L332.01 410.29L326.26 410.29Z" fill="#440154" stroke="#440154" stroke-width="0.5" stroke-linejoin="round"/>
<path d="M332.36 415.18L335.23 410.29L329.48 410.29Z" fill="#440154" stroke="#440154" stroke-width="0.5" stroke-linejoin="round"/>
<path d="M338.51 405.80L341.39 400.91L335.64 400.91Z" fill="#440154" stroke="#440154" stroke-width="0.5" stroke-linejoin="round"/>
<path d="M340.61 396.42L343.49 391.53L337.74 391.53Z" fill="#440154" stroke="#440154" stroke-width="0.5" stroke-linejoin="round"/>
<path d="M345.12 371.13L347.99 366.25L342.24 366.25Z" fill="#440154" stroke="#440154" stroke-width="0.5" stroke-linejoin="round"/>
<path d="M348.12 358.49L350.99 353.60L345.24 353.60Z" fill="#440154" stroke="#440154" stroke-width="0.5" stroke-linejoin="round"/>
<path d="M361.63 312.41L364.50 307.52L358.75 307.52Z" fill="#440154" stroke="#440154" stroke-width="0.5" stroke-linejoin="round"/>
<path d="M365.68 304.66L368.56 299.77L362.81 299.77Z" fill="#440154" stroke="#440154" stroke-width="0.5" stroke-linejoin="round"/>
<path d="M373.64 294.87L376.51 289.99L370.76 289.99Z" fill="#440154" stroke="#440154" stroke-width="0.5" stroke-linejoin="round"/>
<path d="M397.35 280.76L400.23 275.88L394.48 275.88Z" fill="#440154" stroke="#440154" stroke-width="0.5" stroke-linejoin="round"/>
<path d="M420.02 275.30L422.89 270.41L417.14 270.41Z" fill="#440154" stroke="#440154" stroke-width="0.5" stroke-linejoin="round"/>
<path d="M442.23 272.44L445.11 267.56L439.36 267.56Z" fill="#440154" stroke="#440154" stroke-width="0.5" stroke-linejoin="round"/>
<path d="M520.13 266.11L523.01 261.22L517.26 261.22Z" fill="#440154" stroke="#440154" stroke-width="0.5" stroke-linejoin="round"/>
<path d="M507 385.2H528.7" stroke="#f0e040" stroke-width="1"/>
<rect x="515.58" y="383.07" width="4.25" height="4.25" fill="#fde725"/>
<text x="532" y="388.40" font-size="9.4" fill="#000" stroke="#000" stroke-width="0.12">S1</text>
<path d="M507 397.3H528.7" stroke="#35b779" stroke-width="1"/>
<circle cx="517.70" cy="397.30" r="2.50" fill="#35b779"/>
<text x="532" y="400.50" font-size="9.4" fill="#000" stroke="#000" stroke-width="0.12">S2</text>
<path d="M507 409.4H528.7" stroke="#31688e" stroke-width="1"/>
<path d="M517.70 406.52L520.58 411.41L514.83 411.41Z" fill="#31688e" stroke="#31688e" stroke-width="0.5" stroke-linejoin="round"/>
<text x="532" y="412.60" font-size="9.4" fill="#000" stroke="#000" stroke-width="0.12">S3</text>
<path d="M507 421.8H528.7" stroke="#440154" stroke-width="1"/>
<path d="M517.70 424.68L520.58 419.79L514.83 419.79Z" fill="#440154" stroke="#440154" stroke-width="0.5" stroke-linejoin="round"/>
<text x="532" y="425.00" font-size="9.4" fill="#000" stroke="#000" stroke-width="0.12">S4</text></g>
<g id="inset"><path d="M409.5 287.50V376.0" fill="none" stroke="#555" stroke-width="0.7"/>
<path d="M409.5 376.0H520" fill="none" stroke="#777" stroke-width="0.5"/>
<path d="M407.5 376.00H409.5M408.3 361.25H409.5M407.5 346.50H409.5M408.3 331.75H409.5M407.5 317.00H409.5M408.3 302.25H409.5M407.5 287.50H409.5" stroke="#555" stroke-width="0.6"/>
<text x="406.5" y="377.20" text-anchor="end" font-size="3.6" fill="#222" stroke="#222" stroke-width="0.08">3.65</text>
<text x="406.5" y="347.70" text-anchor="end" font-size="3.6" fill="#222" stroke="#222" stroke-width="0.08">3.66</text>
<text x="406.5" y="318.20" text-anchor="end" font-size="3.6" fill="#222" stroke="#222" stroke-width="0.08">3.67</text>
<text x="406.5" y="288.70" text-anchor="end" font-size="3.6" fill="#222" stroke="#222" stroke-width="0.08">3.68</text>
<rect x="420.5" y="299.74" width="21.90" height="76.26" fill="#fde725" stroke="#333" stroke-width="0.3"/>
<text x="431.45" y="298.74" text-anchor="middle" font-size="3.3" fill="#333">3.67585</text>
<rect x="442.4" y="301.10" width="22.20" height="74.90" fill="#35b779" stroke="#333" stroke-width="0.3"/>
<text x="453.50" y="300.10" text-anchor="middle" font-size="3.3" fill="#333">3.67539</text>
<rect x="464.6" y="329.21" width="22.20" height="46.79" fill="#31688e" stroke="#333" stroke-width="0.3"/>
<text x="475.70" y="328.21" text-anchor="middle" font-size="3.3" fill="#333">3.66586</text>
<rect x="486.8" y="360.01" width="22.20" height="15.99" fill="#440154" stroke="#333" stroke-width="0.3"/>
<text x="497.90" y="359.01" text-anchor="middle" font-size="3.3" fill="#333">3.65542</text>
<text x="464.2" y="384.2" text-anchor="middle" font-size="4.5" fill="#333"><tspan fill="#dd1f26">Energy</tspan>: 1.332 MeV</text>
<text transform="translate(397.8 336) rotate(-90)" text-anchor="middle" font-size="4.0" fill="#222">Transmission Factor (<tspan fill="#dd1f26">TF</tspan>)</text>
<rect x="521.2" y="287.8" width="5.9" height="22.20" fill="#fde725"/>
<rect x="521.2" y="310.0" width="5.9" height="21.90" fill="#35b779"/>
<rect x="521.2" y="331.9" width="5.9" height="21.90" fill="#31688e"/>
<rect x="521.2" y="353.8" width="5.9" height="22.20" fill="#440154"/>
<rect x="521.2" y="287.8" width="5.9" height="88.2" fill="none" stroke="#333" stroke-width="0.3"/>
<path d="M527.1 298.9h1" stroke="#777" stroke-width="0.4"/>
<text x="529.2" y="299.9" font-size="2.8" fill="#555">1</text>
<path d="M527.1 320.9h1" stroke="#777" stroke-width="0.4"/>
<text x="529.2" y="321.9" font-size="2.8" fill="#555">2</text>
<path d="M527.1 342.9h1" stroke="#777" stroke-width="0.4"/>
<text x="529.2" y="343.9" font-size="2.8" fill="#555">3</text>
<path d="M527.1 364.9h1" stroke="#777" stroke-width="0.4"/>
<text x="529.2" y="365.9" font-size="2.8" fill="#555">4</text>
<rect x="510.2" y="253.7" width="21.4" height="19.2" fill="none" stroke="#9a6aa8" stroke-width="0.9"/>
<path d="M514.5 273.4L474.5 295.8" stroke="#8a3aa0" stroke-width="0.9"/>
<path d="M473.6 296.3L478.6 291.6L480.0 294.1Z" fill="#8a3aa0"/></g>
</g>
</svg>
</body></html>
